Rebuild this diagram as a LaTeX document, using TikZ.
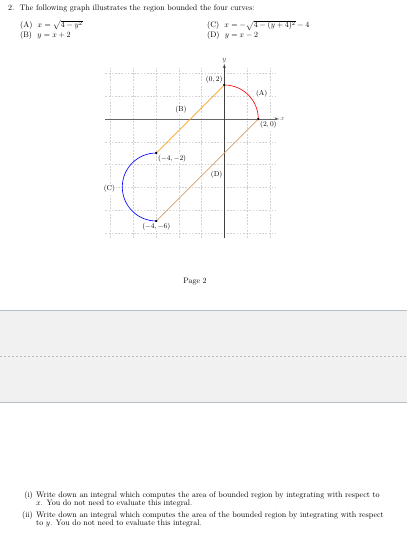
\documentclass[tikz,border=0pt]{standalone}
\usepackage{amsmath}
\usepackage{xcolor}
\usepackage{tikz}
\usetikzlibrary{arrows, positioning}

\definecolor{curveD}{RGB}{214,160,110}
\definecolor{curveB}{RGB}{250,160,40}
\definecolor{pagegap}{RGB}{241,241,241}
\definecolor{pageedge}{RGB}{184,190,198}

\begin{document}
\begin{tikzpicture}[x=1.25pt, y=-1.25pt,
        txt/.style={inner sep=0pt, anchor=base west, font=\fontsize{10}{12}\selectfont},
        para/.style={inner sep=0pt, anchor=north west, align=left, font=\fontsize{10}{10.2}\selectfont},
        lbl/.style={inner sep=1pt, fill=white, font=\small},
        dot/.style={circle, fill=black, inner sep=0pt, minimum size=2.8pt},
        line/.style={draw, thick}]

    \useasboundingbox (0,0) rectangle (407,537);

    % Question text
    \node [txt] (qhead) at (8,11) {2.\ \ The following graph illustrates the region bounded the four curves:};
    \node [txt] (qa) at (20,28) {(A)\ \ $x=\sqrt{4-y^2}$};
    \node [txt] (qb) at (20,38) {(B)\ \ $y=x+2$};
    \node [txt] (qc) at (207,28) {(C)\ \ $x=-\sqrt{4-(y+4)^2}-4$};
    \node [txt] (qd) at (207,38) {(D)\ \ $y=x-2$};

    % Graph
    \begin{scope}[shift={(224.3,119)}, x=21.25pt, y=21.25pt]
        \draw [gray!35, dash pattern=on 2.2pt off 1.8pt, line width=0.45pt] (-7,-7) grid (3,3);
        \draw [-latex', gray!80!black, line width=1.1pt] (-7,0) -- (3.25,0) node [right, lbl, inner sep=0.5pt] (xlab) {$x$};
        \draw [-latex', black!75, line width=0.8pt] (0,-7) -- (0,3.25) node [above, lbl, inner sep=0.5pt] (ylab) {$y$};

        \node [dot] (top) at (0,2) {};
        \node [dot] (right) at (2,0) {};
        \node [dot] (upper) at (-4,-2) {};
        \node [dot] (lower) at (-4,-6) {};

        % Curves
        \draw [red, thick] (top.center) arc (90:0:2);
        \path [line, curveB] (upper.center) -- (top.center);
        \draw [blue, thick] (upper.center) arc (90:270:2);
        \path [line, curveD] (lower.center) -- (right.center);

        \node [dot] at (top) {};
        \node [dot] at (right) {};
        \node [dot] at (upper) {};
        \node [dot] at (lower) {};

        % Labels
        \node [lbl, above left=0pt and 0pt of top] (ltop) {$(0,2)$};
        \node [lbl, below right=0pt and 0pt of right] (lright) {$(2,0)$};
        \node [lbl, below right=0pt and 0pt of upper] (lupper) {$(-4,-2)$};
        \node [lbl, below=0pt of lower] (llower) {$(-4,-6)$};
        \node [lbl] (la) at (2.2,1.5) {(A)};
        \node [lbl] (lb) at (-2.55,0.53) {(B)};
        \node [lbl] (lc) at (-6.76,-4.08) {(C)};
        \node [lbl] (ld) at (-0.45,-3.3) {(D)};
    \end{scope}

    \node [txt, anchor=base] (pagenum) at (195,283.5) {Page 2};

    % Gap between the pages
    \fill [pagegap] (0,310) rectangle (407,402);
    \draw [pageedge, line width=1pt] (0,310) -- (407,310);
    \draw [pageedge, line width=1pt] (0,402) -- (407,402);
    \draw [gray!55, dash pattern=on 3pt off 2pt, line width=0.6pt] (0,356) -- (407,356);

    % Parts
    \node [txt, anchor=base east] (pi) at (33,497.5) {(i)};
    \node [para] (ti) at (36,492) {Write down an integral which computes the area of bounded region by integrating with respect to\\$x$. You do not need to evaluate this integral.};
    \node [txt, anchor=base east] (pii) at (33,517.5) {(ii)};
    \node [para] (tii) at (36,512) {Write down an integral which computes the area of the bounded region by integrating with respect\\to $y$. You do not need to evaluate this integral.};
\end{tikzpicture}
\end{document}
